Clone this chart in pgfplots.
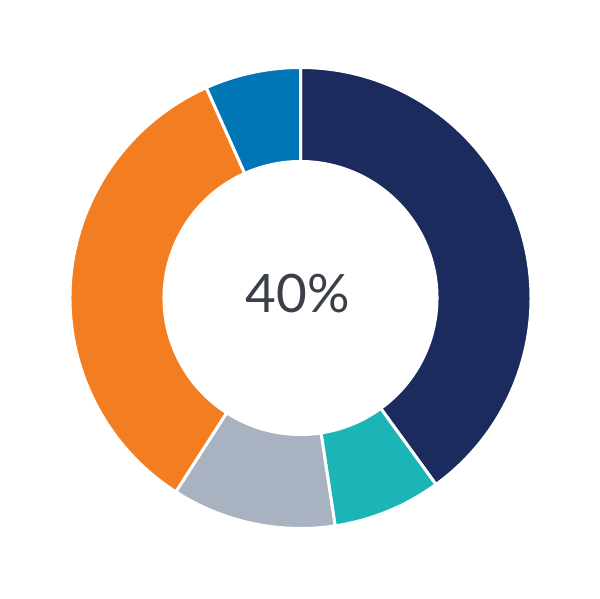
\documentclass[border=0pt]{standalone}
\usepackage{pgfplots}
\pgfplotsset{compat=1.18}
\usepackage{pgfplotstable}
\usepackage{fontspec}
\setmainfont{Lato}
\usetikzlibrary{calc}

\definecolor{cNavy}{HTML}{1C2B5D}
\definecolor{cTeal}{HTML}{1BB5B7}
\definecolor{cGray}{HTML}{A8B2C1}
\definecolor{cOrange}{HTML}{F37D21}
\definecolor{cBlue}{HTML}{0076B6}
\definecolor{cText}{HTML}{3A3F48}

% shares in percent, clockwise from 12 o'clock
\pgfplotstableread{
share colour
40.0 cNavy
7.6  cTeal
11.5 cGray
34.2 cOrange
6.7  cBlue
}\ringdata

\begin{document}
\begin{tikzpicture}
\begin{axis}[x=1bp, y=1bp, xmin=0, xmax=600, ymin=0, ymax=599,
  hide axis, clip=false]
\path (axis cs:0,0) rectangle (axis cs:600,599);
\pgfplotstablegetrowsof{\ringdata}
\pgfmathtruncatemacro\lastrow{\pgfplotsretval-1}
\def\acc{0}
\pgfplotsforeachungrouped \k in {0,...,\lastrow}{%
  \pgfplotstablegetelem{\k}{share}\of\ringdata \let\val\pgfplotsretval
  \pgfplotstablegetelem{\k}{colour}\of\ringdata \let\col\pgfplotsretval
  \pgfmathsetmacro\aS{90-3.6*\acc}%
  \pgfmathsetmacro\acc{\acc+\val}%
  \pgfmathsetmacro\aE{90-3.6*\acc}%
  \edef\wedge{\noexpand\fill[\col, draw=white, line width=3bp]
    ($(axis cs:300.5,301)+(\aS:230.5bp)$)
    arc[start angle=\aS, end angle=\aE, radius=230.5bp]
    -- ($(axis cs:300.5,301)+(\aE:136.5bp)$)
    arc[start angle=\aE, end angle=\aS, radius=136.5bp] -- cycle;}%
  \wedge
}
\node[anchor=base, inner sep=0pt, text=cText,
  font=\fontsize{53bp}{53bp}\selectfont] at (axis cs:297.5,286) {40\%};
\end{axis}
\end{tikzpicture}
\end{document}
